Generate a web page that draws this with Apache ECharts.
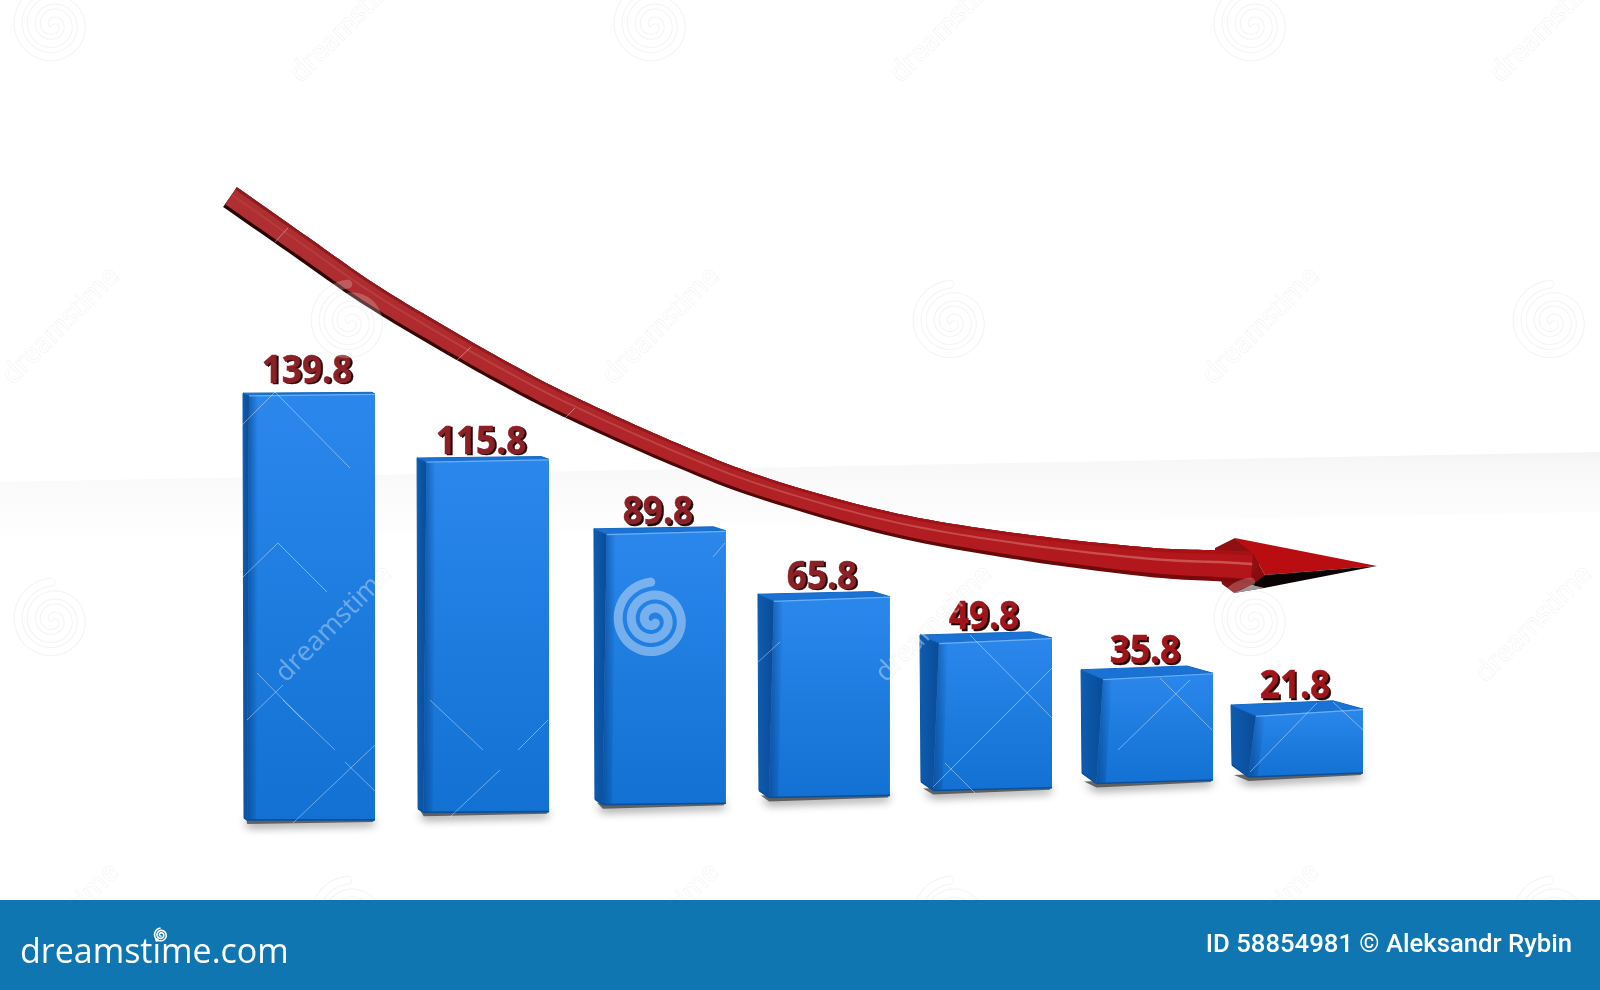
<!DOCTYPE html>
<html>
<head>
  <meta charset="utf-8" />
  <title>ECharts</title>
  <script src="https://cdn.jsdelivr.net/npm/echarts@6"></script>
  <style>
    html, body {
      height: 100%;
      margin: 0;
      padding: 0;
      overflow: hidden;
      background: #fff;
    }

    #main {
      width: 1600px;
      height: 990px;
    }
  </style>
</head>
<body>
  <div id="main"></div>

  <script type="text/javascript">
    // bar values and where each bar stands along the floor (slots are not quite even in the picture)
    const barSlots = [0, 1.055, 2.127, 3.121, 4.103, 5.079, 5.988];
    const barValues = [139.8, 115.8, 89.8, 65.8, 49.8, 35.8, 21.8];

    // centre line of the red arrow, in the same units as the bars
    const arrowSlots = [-0.479, -0.055, 0.352, 0.752, 1.158, 1.564, 2.224, 2.782, 3.552, 4.315, 5.079, 5.539, 5.715];
    const arrowValues = [204.2, 188.3, 173.1, 160.1, 147.7, 136.4, 120.5, 109.1, 97.7, 90.6, 85.7, 84.4, 83.8];

    const BAR_W = 132;

    const chart = echarts.init(document.getElementById('main'));

    function labelLayer(text, x, y, fill) {
      return {
        type: 'text',
        x: x,
        y: y,
        scaleX: 0.88,
        style: {
          text: text,
          font: 'bold 40px "Open Sans"',
          fill: fill,
          stroke: fill,
          lineWidth: 0.5,
          align: 'center',
          verticalAlign: 'middle'
        }
      };
    }

    function renderBar(params, api) {
      const slot = api.value(0);
      const value = api.value(1);
      const topPt = api.coord([slot, value]);
      const basePt = api.coord([slot, 0]);
      const xL = topPt[0] - BAR_W / 2;
      const xR = topPt[0] + BAR_W / 2;
      // the floor climbs to the right, and the camera sees more of the top and left side there
      const tilt = 0.0435 * (xL - 241);
      const y = topPt[1] - tilt;
      const t = (xL - 241) / 990;
      const side = 6 + 19 * t;
      const sideB = side * 0.7;
      const d = 3 + 12 * t;
      const dx = 3 + 27 * t;
      const bot = basePt[1] - 6 - tilt;
      const botR = bot - 4 * t;
      const label = value.toFixed(1);
      const labelX = topPt[0] - 2;
      const labelY = y - d - 14 - 7 * Math.max(0, 1 - t / 0.15);

      return {
        type: 'group',
        children: [
          {
            type: 'polygon',
            shape: { points: [[xL + 3, bot - 2], [xR, botR - 3], [xR - 2, botR + 2], [xL + sideB, bot + 4]] },
            style: { fill: 'rgba(70,70,70,0.8)', shadowBlur: 10, shadowColor: 'rgba(40,40,40,0.75)', shadowOffsetY: 3 }
          },
          {
            type: 'polygon',
            shape: { points: [[xL, y - d * 0.72], [xL + side, y], [xL + sideB, bot], [xL + 1, bot - 10 * t - 2]] },
            style: {
              fill: new echarts.graphic.LinearGradient(0, 0, 1, 0, [
                { offset: 0, color: '#0d5db2' },
                { offset: 1, color: '#0a4b95' }
              ]),
              stroke: '#0c55a6',
              lineWidth: 1,
              lineJoin: 'round'
            }
          },
          {
            type: 'polygon',
            shape: { points: [[xL, y - d * 0.72], [xR - dx, y - d], [xR, y - d * 0.45], [xL + side, y]] },
            style: { fill: '#1a72d4', stroke: '#1568c2', lineWidth: 1, lineJoin: 'round' }
          },
          {
            type: 'polygon',
            shape: { points: [[xL + side, y], [xR, y - d * 0.45], [xR, botR], [xL + sideB, bot]] },
            style: {
              fill: new echarts.graphic.LinearGradient(0, 0, 0, 1, [
                { offset: 0, color: '#2b87ec' },
                { offset: 1, color: '#1271d2' }
              ])
            }
          },
          {
            // soft blend where the side meets the front
            type: 'polygon',
            shape: { points: [[xL + side, y], [xL + side + 9, y], [xL + sideB + 9, bot], [xL + sideB, bot]] },
            style: {
              fill: new echarts.graphic.LinearGradient(0, 0, 1, 0, [
                { offset: 0, color: 'rgba(10,75,150,0.8)' },
                { offset: 1, color: 'rgba(10,75,150,0)' }
              ])
            }
          },
          {
            type: 'polyline',
            shape: { points: [[xL + side, y + 0.5], [xR, y - d * 0.45 + 0.5]] },
            style: { stroke: 'rgba(120,185,250,0.8)', lineWidth: 1.2, fill: null }
          },
          {
            type: 'polyline',
            shape: { points: [[xL + 1, bot - 10 * t - 2], [xL + sideB, bot], [xR, botR]] },
            style: { stroke: '#0b4f9b', lineWidth: 1.6, fill: null, lineJoin: 'round' }
          },
          labelLayer(label, labelX + 2, labelY + 1.5, '#1f0405'),
          labelLayer(label, labelX, labelY, t > 0.6 ? '#a0151a' : '#8c2027')
        ]
      };
    }

    // Catmull-Rom through the arrow's points, in pixels
    function sampleArrow(api) {
      const pts = arrowSlots.map((s, i) => api.coord([s, arrowValues[i]]));
      const out = [];
      for (let i = 0; i < pts.length - 1; i++) {
        const p0 = pts[Math.max(i - 1, 0)];
        const p1 = pts[i];
        const p2 = pts[i + 1];
        const p3 = pts[Math.min(i + 2, pts.length - 1)];
        for (let k = 0; k < 12; k++) {
          const u = k / 12;
          const u2 = u * u;
          const u3 = u2 * u;
          out.push([0, 1].map(a => 0.5 * (2 * p1[a] + (p2[a] - p0[a]) * u +
            (2 * p0[a] - 5 * p1[a] + 4 * p2[a] - p3[a]) * u2 +
            (3 * p1[a] - p0[a] - 3 * p2[a] + p3[a]) * u3)));
        }
      }
      out.push(pts[pts.length - 1]);
      return out;
    }

    // shaft is a little thinner in the middle and swells near the head
    function shaftWidth(x) {
      const f = (x - 230) / 1022;
      return f < 0.55 ? 24 - 2 * f / 0.55 : 22 + 10 * Math.pow((f - 0.55) / 0.45, 1.3);
    }

    function ribbon(samples, from, to) {
      const upper = [];
      const lower = [];
      samples.forEach((p, i) => {
        const a = samples[Math.max(i - 1, 0)];
        const b = samples[Math.min(i + 1, samples.length - 1)];
        const len = Math.hypot(b[0] - a[0], b[1] - a[1]);
        const nx = (b[1] - a[1]) / len;
        const ny = -(b[0] - a[0]) / len;
        const w = shaftWidth(p[0]);
        upper.push([p[0] + nx * w * from, p[1] + ny * w * from]);
        lower.push([p[0] + nx * w * to, p[1] + ny * w * to]);
      });
      return upper.concat(lower.reverse());
    }

    function renderArrow(params, api) {
      if (params.dataIndex !== 0) return null;
      const samples = sampleArrow(api);
      const e = samples[samples.length - 1];
      const at = offs => offs.map(o => [e[0] + o[0], e[1] + o[1]]);
      const hGrad = (c0, c1) => new echarts.graphic.LinearGradient(0, 0, 1, 0, [
        { offset: 0, color: c0 },
        { offset: 1, color: c1 }
      ]);

      return {
        type: 'group',
        children: [
          { type: 'polygon', shape: { points: at([[2, -13], [13, 7], [0, 17], [-30, 16], [-37, -16]]) }, style: { fill: '#8a0c0f' } },
          { type: 'polygon', shape: { points: at([[-37, -20], [-17, -30], [10, -8], [2, 4], [-37, -16]]) }, style: { fill: '#8f0f12' } },
          { type: 'polygon', shape: { points: at([[-30, 16], [2, 8], [13, 7], [12, 20], [-18, 25]]) }, style: { fill: '#870c0f' } },
          { type: 'polygon', shape: { points: ribbon(samples, 0.5, -0.5) }, style: { fill: hGrad('#260303', '#7d0a0c') } },
          { type: 'polygon', shape: { points: ribbon(samples, 0.5, -0.36) }, style: { fill: hGrad('#ae3033', '#b3141a') } },
          { type: 'polygon', shape: { points: ribbon(samples, 0.5, 0.38) }, style: { fill: hGrad('#8c1d20', '#a81014') } },
          { type: 'polygon', shape: { points: ribbon(samples, 0.16, 0.08) }, style: { fill: hGrad('#b53a3a', '#cb5452') } },
          { type: 'polygon', shape: { points: at([[-17, -30], [125, -2], [13, 7], [2, -13]]) }, style: { fill: '#b90d11' } },
          { type: 'polygon', shape: { points: at([[125, -2], [13, 7], [0, 17], [12, 20]]) }, style: { fill: '#0b0304' } },
          { type: 'polygon', shape: { points: at([[-18, 25], [0, 17], [12, 20]]) }, style: { fill: '#9a9a9a' } }
        ]
      };
    }

    // watermark drawing, only decoration around the chart
    function spiral(cx, cy, r) {
      const pts = [];
      for (let a = 0; a <= 2.6 * 2 * Math.PI; a += 0.12) {
        const rad = r * (0.1 + 0.9 * a / (2.6 * 2 * Math.PI));
        pts.push([cx + rad * Math.cos(a + 0.9), cy + rad * Math.sin(a + 0.9)]);
      }
      return pts;
    }

    const spiralSpots = [[53, 25], [653, 25], [1253, 25], [350, 322], [952, 322], [1552, 322],
      [53, 620], [653, 620], [1253, 620], [350, 918], [952, 918], [1552, 918]];
    const wordSpots = [[349, 24], [949, 24], [1549, 24], [61, 326], [661, 326], [1261, 326],
      [334, 624], [934, 624], [1534, 624], [61, 922], [661, 922], [1261, 922]];
    const hairLines = [
      [275, 392, 350, 468], [275, 392, 241, 426], [283, 700, 335, 750], [293, 823, 377, 743],
      [345, 762, 377, 793], [430, 700, 483, 750], [548, 720, 518, 750], [500, 770, 450, 817],
      [278, 543, 327, 592], [243, 577, 278, 543], [257, 673, 303, 720], [283, 685, 247, 720],
      [725, 543, 713, 557], [780, 642, 758, 662], [970, 635, 1052, 718], [1052, 668, 933, 787],
      [945, 763, 975, 793], [1160, 678, 1212, 730], [1190, 680, 1118, 750], [1333, 702, 1363, 730],
      [1317, 703, 1250, 772], [288, 228, 275, 242], [471, 347, 456, 361], [575, 408, 558, 425]
    ];

    const graphics = [
      {
        type: 'polygon',
        z: -5,
        shape: { points: [[0, 482], [1600, 452], [1600, 512], [0, 540]] },
        style: {
          fill: new echarts.graphic.LinearGradient(0, 0, 0, 1, [
            { offset: 0, color: '#f4f4f4' },
            { offset: 0.15, color: '#f8f8f8' },
            { offset: 1, color: '#ffffff' }
          ])
        }
      }
    ];

    spiralSpots.forEach(p => {
      const path = spiral(p[0], p[1], 38);
      graphics.push({ type: 'polyline', z: -4, shape: { points: path }, style: { stroke: '#f1f1f1', lineWidth: 9, fill: null, lineCap: 'round' } });
      graphics.push({ type: 'polyline', z: -3, shape: { points: path }, style: { stroke: '#ffffff', lineWidth: 7, fill: null, lineCap: 'round' } });
      const strong = p[0] === 653 && p[1] === 620;
      graphics.push({ type: 'polyline', z: 50, shape: { points: path }, style: { stroke: strong ? 'rgba(255,255,255,0.38)' : 'rgba(255,255,255,0.22)', lineWidth: 9, fill: null, lineCap: 'round' } });
    });

    wordSpots.forEach(p => {
      const word = { text: 'dreamstime', font: '27px "Open Sans"', align: 'center', verticalAlign: 'middle' };
      graphics.push({ type: 'text', z: -3, x: p[0], y: p[1], rotation: Math.PI / 4, style: Object.assign({ fill: '#ffffff', stroke: '#eeeeee', lineWidth: 1 }, word) });
      graphics.push({ type: 'text', z: 50, x: p[0], y: p[1], rotation: Math.PI / 4, style: Object.assign({ fill: 'rgba(255,255,255,0.35)' }, word) });
    });

    hairLines.forEach(l => {
      graphics.push({ type: 'line', z: 50, shape: { x1: l[0], y1: l[1], x2: l[2], y2: l[3] }, style: { stroke: 'rgba(255,255,255,0.4)', lineWidth: 1 } });
    });

    // bottom credit band
    graphics.push(
      { type: 'rect', z: 60, shape: { x: 0, y: 900, width: 1600, height: 90 }, style: { fill: '#1076b1' } },
      { type: 'text', z: 61, x: 20, y: 953, style: { text: 'dreamstime.com', font: '34px "Open Sans"', fill: '#ffffff', align: 'left', verticalAlign: 'middle' } },
      { type: 'polyline', z: 61, shape: { points: spiral(161, 935, 7) }, style: { stroke: '#ffffff', lineWidth: 1.6, fill: null } },
      { type: 'text', z: 61, x: 1572, y: 946, style: { text: 'ID 58854981 © Aleksandr Rybin', font: '500 25.7px Roboto', fill: '#ffffff', align: 'right', verticalAlign: 'middle' } }
    );

    const option = {
      backgroundColor: '#ffffff',
      animation: false,
      grid: { left: 144, right: 136, top: 148.4, bottom: 164 },
      xAxis: { type: 'value', min: -1, max: 7, show: false },
      yAxis: { type: 'value', min: 0, max: 220, show: false },
      graphic: { elements: graphics },
      series: [
        {
          type: 'custom',
          clip: false,
          renderItem: renderBar,
          encode: { x: 0, y: 1 },
          data: barSlots.map((s, i) => [s, barValues[i]])
        },
        {
          type: 'custom',
          clip: false,
          z: 3,
          renderItem: renderArrow,
          encode: { x: 0, y: 1 },
          data: arrowSlots.map((s, i) => [s, arrowValues[i]])
        }
      ]
    };

    chart.setOption(option);
  </script>
</body>
</html>
